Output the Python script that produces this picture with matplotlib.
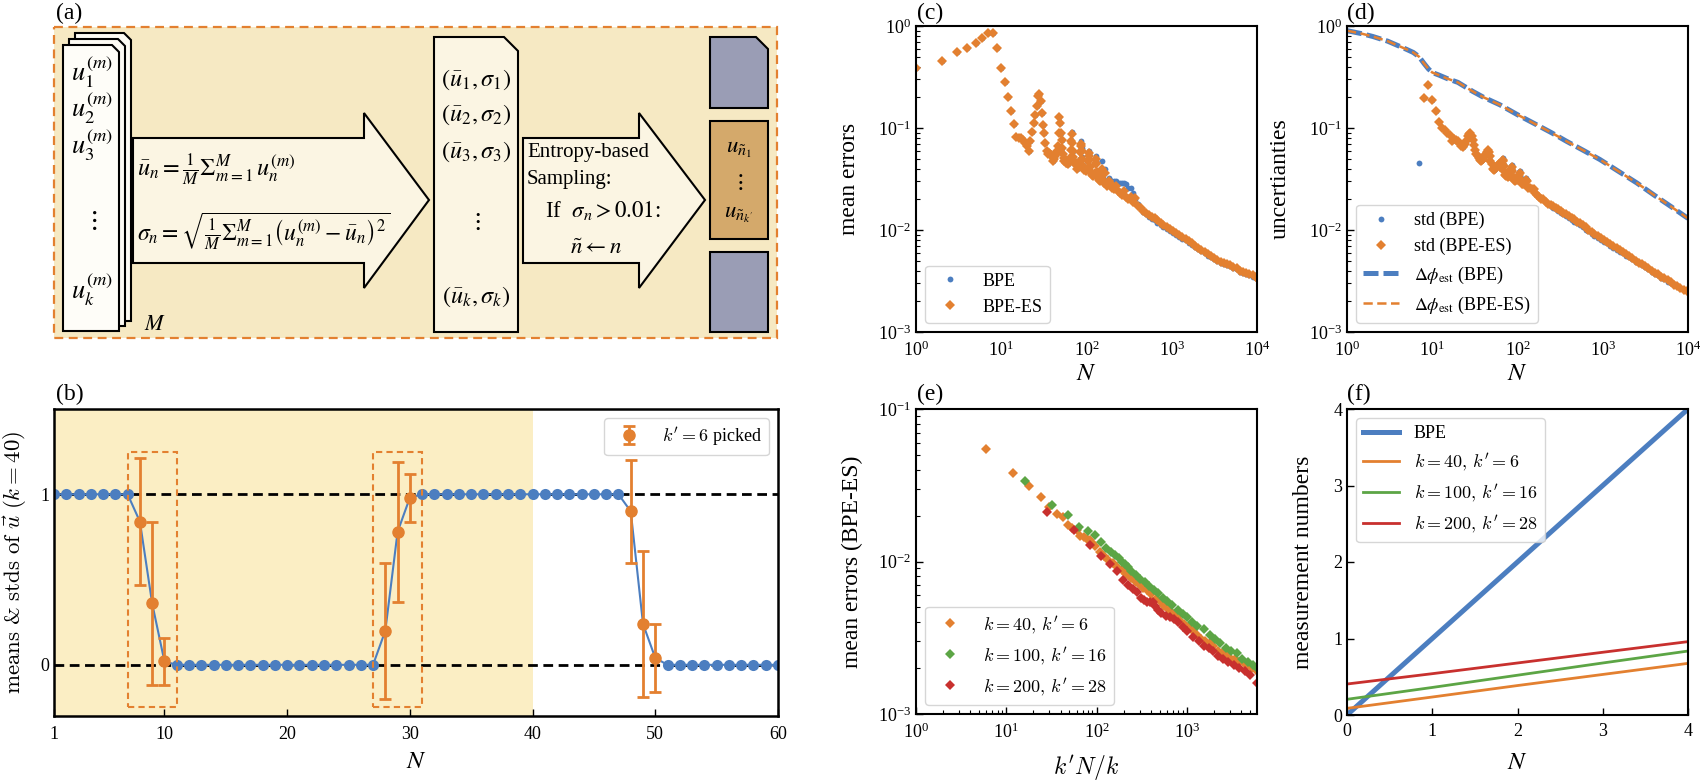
import matplotlib
matplotlib.use('Agg')
import matplotlib.pyplot as plt
from matplotlib.patches import Polygon, Rectangle

plt.rcParams['font.family'] = ['Liberation Serif', 'DejaVu Serif']
plt.rcParams['mathtext.fontset'] = 'stix'
plt.rcParams['font.size'] = 13
plt.rcParams['xtick.labelsize'] = 13
plt.rcParams['ytick.labelsize'] = 13

BLUE = '#4C7EC0'
ORANGE = '#E38030'
GREEN = '#5CA545'
RED = '#C8302E'

# ---------------- data ----------------
# (b)
b_N = list(range(1, 61))
b_mean = [1]*7 + [0.84, 0.36, 0.02] + [0]*17 + [0.20, 0.78, 0.98] + [1]*17 + [0.90, 0.24, 0.04] + [0]*10
b_pick_N = [8, 9, 10, 28, 29, 30, 48, 49, 50]
b_pick_mean = [0.84, 0.36, 0.02, 0.20, 0.78, 0.98, 0.90, 0.24, 0.04]
b_pick_std = [0.37, 0.48, 0.14, 0.40, 0.41, 0.14, 0.30, 0.43, 0.20]
b_groups = [[8, 9, 10], [28, 29, 30]]

# (c) mean errors
c_N_early = list(range(1, 63))
c_early = [0.39, 0.45, 0.55, 0.61, 0.68, 0.77, 0.85, 0.85, 0.61, 0.39,
           0.28, 0.20, 0.147, 0.110, 0.082, 0.080, 0.079, 0.077, 0.072, 0.066,
           0.060, 0.074, 0.091, 0.112, 0.135, 0.165, 0.205, 0.215, 0.185, 0.140,
           0.107, 0.090, 0.072, 0.059, 0.056, 0.057, 0.055, 0.054, 0.053, 0.052,
           0.048, 0.050, 0.053, 0.056, 0.060, 0.066, 0.090, 0.128, 0.112, 0.090,
           0.077, 0.064, 0.056, 0.051, 0.048, 0.047, 0.046, 0.045, 0.045, 0.044,
           0.046, 0.048]
c_N_tail = [64, 65, 66, 67, 68, 69, 70, 72, 74, 77,
            80, 83, 85, 86, 87, 88, 89, 91, 94, 98,
            102, 105, 106, 107, 108, 110, 113, 116, 120, 125,
            128, 129, 130, 132, 136, 140, 144, 148, 150, 152,
            156, 160, 165, 170, 176, 182, 190, 200, 210, 220,
            232, 245, 260, 275, 290, 310, 330, 350, 375, 400,
            430, 460, 500, 540, 580, 630, 680, 740, 800, 870,
            950, 1030, 1120, 1220, 1330, 1450, 1580, 1720, 1880, 2050,
            2230, 2430, 2650, 2890, 3150, 3430, 3740, 4080, 4450, 4850,
            5290, 5770, 6290, 6860, 7480, 8150, 8890, 9690, 10000]
c_es_tail = [0.051, 0.061, 0.074, 0.088, 0.071, 0.059, 0.052, 0.047, 0.044, 0.040,
             0.042, 0.048, 0.058, 0.066, 0.070, 0.060, 0.050, 0.042, 0.039, 0.038,
             0.040, 0.047, 0.053, 0.057, 0.049, 0.041, 0.037, 0.035, 0.034, 0.036,
             0.045, 0.050, 0.044, 0.037, 0.033, 0.031, 0.030, 0.033, 0.040, 0.036,
             0.031, 0.029, 0.036, 0.028, 0.027, 0.030, 0.029, 0.026, 0.025, 0.027,
             0.024, 0.023, 0.022, 0.024, 0.021, 0.020, 0.021, 0.019, 0.0205, 0.017,
             0.0165, 0.0155, 0.0148, 0.0140, 0.0134, 0.0130, 0.0124, 0.0117, 0.0112, 0.0107,
             0.0102, 0.0098, 0.0094, 0.0090, 0.0086, 0.0082, 0.0078, 0.0074, 0.0070, 0.0067,
             0.0064, 0.0061, 0.0058, 0.0055, 0.0053, 0.0051, 0.0049, 0.0047, 0.0046, 0.0045,
             0.0043, 0.0042, 0.0040, 0.0039, 0.0038, 0.0037, 0.0036, 0.0035, 0.0034]
c_bpe_tail = [0.051, 0.062, 0.076, 0.092, 0.073, 0.060, 0.052, 0.047, 0.044, 0.040,
              0.043, 0.050, 0.061, 0.069, 0.075, 0.063, 0.052, 0.043, 0.039, 0.038,
              0.041, 0.049, 0.055, 0.060, 0.051, 0.042, 0.037, 0.035, 0.034, 0.037,
              0.047, 0.053, 0.046, 0.038, 0.033, 0.032, 0.031, 0.036, 0.047, 0.039,
              0.032, 0.030, 0.040, 0.030, 0.029, 0.032, 0.031, 0.029, 0.030, 0.030,
              0.029, 0.029, 0.029, 0.029, 0.028, 0.026, 0.026, 0.023, 0.020, 0.018,
              0.0162, 0.0150, 0.0143, 0.0135, 0.0128, 0.0124, 0.0118, 0.0112, 0.0107, 0.0102,
              0.0097, 0.0093, 0.0089, 0.0085, 0.0082, 0.0079, 0.0075, 0.0072, 0.0068, 0.0065,
              0.0062, 0.0059, 0.0056, 0.0054, 0.0052, 0.0050, 0.0048, 0.0046, 0.0045, 0.0044,
              0.0042, 0.0041, 0.0039, 0.0038, 0.0037, 0.0036, 0.0035, 0.0034, 0.0034]

# (d) uncertainties
d_bpe_extra_N = [7]
d_bpe_extra = [0.045]
d_N_early = list(range(8, 41)) + [42, 43, 44, 45, 46, 47, 48, 50, 52, 53, 55, 57, 59, 61]
d_std_early = [0.196, 0.265, 0.190, 0.148, 0.114, 0.100, 0.096, 0.090, 0.086, 0.074,
               0.078, 0.076, 0.074, 0.070, 0.066, 0.065, 0.069, 0.075, 0.083, 0.087,
               0.089, 0.084, 0.077, 0.068, 0.061, 0.056, 0.053, 0.051, 0.049, 0.048,
               0.049, 0.050, 0.052,
               0.054, 0.056, 0.058, 0.061, 0.058, 0.053, 0.048, 0.044, 0.040, 0.039,
               0.040, 0.042, 0.043, 0.044]
d_N_tail = [63, 65, 66, 67, 68, 69, 70, 72, 74, 77,
            80, 83, 85, 86, 87, 89, 91, 94, 98, 102,
            105, 107, 109, 112, 116, 120, 125, 128, 130, 134,
            140, 148, 155, 162, 170, 180, 190, 200, 215, 230,
            245, 260, 280, 300, 320, 345, 370, 400, 430, 460,
            500, 540, 580, 630, 680, 740, 800, 870, 950, 1030,
            1120, 1220, 1330, 1450, 1580, 1720, 1880, 2050, 2230, 2430,
            2650, 2890, 3150, 3430, 3740, 4080, 4450, 4850, 5290, 5770,
            6290, 6860, 7480, 8150, 8890, 9690, 10000]
d_es_tail = [0.041, 0.044, 0.047, 0.049, 0.047, 0.042, 0.038, 0.035, 0.034, 0.033,
             0.034, 0.037, 0.040, 0.041, 0.038, 0.033, 0.031, 0.030, 0.031, 0.033,
             0.035, 0.036, 0.031, 0.028, 0.028, 0.029, 0.031, 0.030, 0.027, 0.026,
             0.026, 0.025, 0.025, 0.023, 0.022, 0.021, 0.020, 0.020, 0.019, 0.018,
             0.0175, 0.017, 0.0165, 0.016, 0.0155, 0.0148, 0.0142, 0.0136, 0.0131, 0.0127,
             0.0121, 0.0116, 0.0111, 0.0106, 0.0101, 0.0096, 0.0092, 0.0088, 0.0084, 0.0080,
             0.0077, 0.0073, 0.0070, 0.0067, 0.0064, 0.0061, 0.0058, 0.0055, 0.0053, 0.0050,
             0.0048, 0.0046, 0.0044, 0.0042, 0.0040, 0.0038, 0.0037, 0.0035, 0.0034, 0.0032,
             0.0031, 0.0029, 0.0028, 0.0027, 0.0026, 0.0025, 0.0025]
d_bpe_tail = [0.042, 0.046, 0.049, 0.051, 0.049, 0.043, 0.038, 0.035, 0.034, 0.033,
              0.035, 0.039, 0.042, 0.043, 0.040, 0.034, 0.031, 0.030, 0.032, 0.035,
              0.037, 0.038, 0.032, 0.028, 0.028, 0.030, 0.032, 0.031, 0.027, 0.026,
              0.026, 0.025, 0.025, 0.023, 0.022, 0.021, 0.020, 0.020, 0.019, 0.018,
              0.0172, 0.0166, 0.016, 0.0154, 0.0148, 0.0142, 0.0136, 0.0130, 0.0125, 0.0121,
              0.0116, 0.0111, 0.0106, 0.0101, 0.0097, 0.0092, 0.0088, 0.0084, 0.0080, 0.0077,
              0.0074, 0.0070, 0.0067, 0.0064, 0.0061, 0.0059, 0.0056, 0.0054, 0.0052, 0.0049,
              0.0047, 0.0045, 0.0043, 0.0041, 0.0039, 0.0037, 0.0036, 0.0034, 0.0033, 0.0031,
              0.0030, 0.0029, 0.0028, 0.0027, 0.0026, 0.0025, 0.0025]
d_dphi_N = [1, 1.5, 2, 3, 4, 5, 6, 7, 8, 9, 10, 12, 15, 20, 25, 30, 40, 62, 100,
            153, 250, 377, 600, 930, 1500, 2500, 4000, 6300, 10000]
d_dphi_bpe = [0.90, 0.84, 0.79, 0.71, 0.64, 0.59, 0.55, 0.50, 0.43, 0.38, 0.35, 0.33,
              0.305, 0.28, 0.25, 0.228, 0.20, 0.169, 0.135, 0.112, 0.090, 0.074, 0.060,
              0.049, 0.038, 0.029, 0.022, 0.017, 0.0130]
d_dphi_es = [0.90, 0.84, 0.79, 0.71, 0.64, 0.59, 0.55, 0.50, 0.43, 0.38, 0.35, 0.33,
             0.305, 0.28, 0.25, 0.228, 0.20, 0.169, 0.135, 0.112, 0.090, 0.074, 0.060,
             0.049, 0.038, 0.029, 0.022, 0.017, 0.0130]

# (e) mean errors (BPE-ES) vs k'N/k
e_X_40 = [6, 12, 18, 24, 30, 36, 42, 48, 54, 60,
          66, 72, 78, 84, 90, 96, 108, 120, 132, 150,
          170, 190, 213, 240, 270, 300, 330, 360, 400, 450,
          500, 560, 630, 700, 780, 840, 930, 1030, 1170, 1300,
          1450, 1600, 1800, 1960, 2200, 2450, 2750, 3050, 3400, 3800,
          4250, 4750, 5300, 5900]
e_40 = [0.0547, 0.0379, 0.0314, 0.0264, 0.0229, 0.0205, 0.0195, 0.0174, 0.0166, 0.0160,
        0.0148, 0.0144, 0.0140, 0.0138, 0.0133, 0.0127, 0.0116, 0.0108, 0.0102, 0.0098,
        0.0092, 0.0088, 0.0083, 0.0078, 0.0073, 0.0070, 0.0067, 0.0065, 0.0061, 0.0057,
        0.0055, 0.0051, 0.0048, 0.0045, 0.0043, 0.0041, 0.0039, 0.0037, 0.0035, 0.0033,
        0.0031, 0.0030, 0.0029, 0.0028, 0.0026, 0.0025, 0.0024, 0.0023, 0.0023, 0.0022,
        0.00215, 0.0021, 0.0020, 0.0019]
e_X_100 = [16, 32, 48, 64, 80, 96, 112, 128, 144, 160,
           176, 192, 208, 224, 240, 270, 300, 340, 380, 430,
           480, 540, 600, 690, 800, 900, 1000, 1150, 1300, 1530,
           1800, 2050, 2330, 2700, 3100, 3550, 4100, 4700, 5400, 5900]
e_100 = [0.0339, 0.0235, 0.0202, 0.0169, 0.0158, 0.0149, 0.0134, 0.0123, 0.0116, 0.0110,
         0.0105, 0.0100, 0.0096, 0.0092, 0.0087, 0.0081, 0.0077, 0.0073, 0.0069, 0.0065,
         0.0062, 0.0058, 0.0055, 0.0052, 0.0048, 0.0045, 0.0043, 0.0040, 0.0038, 0.0036,
         0.0033, 0.0031, 0.0029, 0.0027, 0.0026, 0.0025, 0.0023, 0.0022, 0.0021, 0.0020]
e_X_200 = [28, 56, 84, 112, 140, 168, 196, 224, 252, 280,
           308, 336, 364, 392, 420, 448, 476, 520, 580, 650,
           720, 800, 900, 1000, 1170, 1350, 1550, 1750, 1960, 2200,
           2500, 2880, 3300, 3800, 4400, 5000, 5900]
e_200 = [0.0210, 0.0160, 0.0128, 0.0108, 0.0097, 0.0087, 0.0076, 0.0070, 0.0066, 0.0063,
         0.0058, 0.0056, 0.0054, 0.0054, 0.0054, 0.0051, 0.0048, 0.0046, 0.0044, 0.0043,
         0.0042, 0.0040, 0.0037, 0.0035, 0.0032, 0.0030, 0.0028, 0.0027, 0.0026, 0.0024,
         0.0023, 0.0022, 0.0021, 0.0020, 0.0019, 0.0018, 0.0016]

# (f) measurement numbers
f_N = [0, 1, 2, 3, 4]
f_bpe = [0, 1, 2, 3, 4]
f_40 = [0.087, 0.235, 0.385, 0.53, 0.675]
f_100 = [0.205, 0.36, 0.52, 0.68, 0.836]
f_200 = [0.405, 0.54, 0.68, 0.82, 0.959]

# ---------------- figure ----------------
W, H = 1700, 783
fig = plt.figure(figsize=(17, 7.83), dpi=100)


def ax_px(x0, y0, x1, y1):
    return fig.add_axes([x0 / W, 1 - y1 / H, (x1 - x0) / W, (y1 - y0) / H])


def style(ax, lw=1.5):
    ax.tick_params(which='both', direction='in', top=False, right=False)
    ax.tick_params(which='major', length=5, width=1)
    ax.tick_params(which='minor', length=3, width=0.8)
    for s in ax.spines.values():
        s.set_linewidth(lw)


# ---- (a) schematic ----
axa = ax_px(53, 26, 778, 339)
axa.set_xlim(53, 778)
axa.set_ylim(339, 26)
axa.axis('off')
axa.add_patch(Rectangle((54, 27), 723, 311, facecolor='#F6E9C3', edgecolor=ORANGE,
                        ls=(0, (4, 2.5)), lw=1.6, clip_on=False, zorder=0))


def clipped(x0, y0, x1, y1, c, fc, z=2):
    pts = [(x0, y0), (x1 - c, y0), (x1, y0 + c), (x1, y1), (x0, y1)]
    axa.add_patch(Polygon(pts, closed=True, facecolor=fc, edgecolor='k', lw=1.5, zorder=z))


clipped(75, 33, 131, 321, 7, '#FDFBF4', 2)
clipped(69, 39, 125, 326, 7, '#FDFBF4', 3)
clipped(63, 45, 119, 331, 7, '#FEFDF8', 4)

SHEET_FC = '#FBF5E3'


def arrow(x0, xb, xt, yb0, yb1, yh0, yh1, ytip):
    pts = [(x0, yb0), (xb, yb0), (xb, yh0), (xt, ytip), (xb, yh1), (xb, yb1), (x0, yb1)]
    axa.add_patch(Polygon(pts, closed=True, facecolor=SHEET_FC, edgecolor='k', lw=1.5, zorder=3))


arrow(133, 364, 429, 138, 263, 113, 288, 200)
arrow(523, 639, 705, 138, 263, 113, 288, 200)
clipped(434, 37, 518, 332, 14, SHEET_FC, 3)
clipped(710, 37, 768, 108, 12, '#9A9DB5', 3)
axa.add_patch(Rectangle((710, 121), 58, 118, facecolor='#D4A96B', edgecolor='k', lw=1.5, zorder=3))
axa.add_patch(Rectangle((710, 252), 58, 80, facecolor='#9A9DB5', edgecolor='k', lw=1.5, zorder=3))

tk = dict(ha='center', va='center', zorder=6)
for s, y in [(r'$u_1^{(m)}$', 72), (r'$u_2^{(m)}$', 108), (r'$u_3^{(m)}$', 145),
             (r'$\vdots$', 220), (r'$u_k^{(m)}$', 290)]:
    axa.text(92, y, s, fontsize=19, **tk)
axa.text(155, 326, r'$M$', fontsize=16, **tk)
axa.text(137, 170, r'$\bar{u}_n=\frac{1}{M}\Sigma_{m=1}^{M}\,u_n^{(m)}$', ha='left', va='center',
         fontsize=17.5, zorder=6)
axa.text(137, 231, r'$\sigma_n=\sqrt{\frac{1}{M}\Sigma_{m=1}^{M}\left(u_n^{(m)}-\bar{u}_n\right)^2}$',
         ha='left', va='center', fontsize=17, zorder=6)
for s, y in [(r'$(\bar{u}_1,\sigma_1)$', 80), (r'$(\bar{u}_2,\sigma_2)$', 115),
             (r'$(\bar{u}_3,\sigma_3)$', 152), (r'$\vdots$', 222), (r'$(\bar{u}_k,\sigma_k)$', 297)]:
    axa.text(476, y, s, fontsize=17.5, **tk)
axa.text(527, 153, 'Entropy-based', ha='left', va='center', fontsize=15, zorder=6)
axa.text(527, 180, 'Sampling:', ha='left', va='center', fontsize=15, zorder=6)
axa.text(603, 210, r'If  $\sigma_n>0.01$:', ha='center', va='center', fontsize=16.5, zorder=6)
axa.text(596, 248, r'$\tilde{n}\leftarrow n$', ha='center', va='center', fontsize=16.5, zorder=6)
for s, y in [(r'$u_{\tilde{n}_1}$', 150), (r'$\vdots$', 183), (r"$u_{\tilde{n}_{k'}}$", 215)]:
    axa.text(739, y, s, fontsize=16.5, **tk)

# ---- (b) ----
axb = ax_px(54, 409, 778, 716)
axb.axvspan(1, 40, color='#FBEEC4', lw=0, zorder=0)
for yv in (0, 1):
    axb.axhline(yv, color='k', lw=2, dashes=(3.5, 2), zorder=1)
axb.plot(b_N, b_mean, '-o', color=BLUE, lw=1.5, ms=8, mew=0, zorder=2)
for g in b_groups:
    axb.add_patch(Rectangle((min(g) - 1, -0.25), max(g) - min(g) + 2, 1.5, fill=False,
                            edgecolor=ORANGE, lw=1.5, ls=(0, (3, 2)), zorder=3))
axb.errorbar(b_pick_N, b_pick_mean, yerr=b_pick_std, fmt='o', color=ORANGE, ms=8,
             elinewidth=2, capsize=4, capthick=2, zorder=4, label=r"$k'=6$ picked")
axb.set_xlim(1, 60)
axb.set_ylim(-0.3, 1.5)
axb.set_xticks([1, 10, 20, 30, 40, 50, 60])
axb.set_yticks([0, 1])
style(axb, 1.8)
axb.tick_params(axis='x', pad=7)
legb = axb.legend(loc='upper right', fontsize=13)
for t in legb.get_texts():
    t.set_math_fontfamily('cm')
axb.set_xlabel(r'$N$', fontsize=18)
axb.xaxis.set_label_coords(0.5, -0.115)
axb.set_ylabel(r'$\mathrm{means\ &\ stds\ of\ }\vec{u}\ (k=40)$', fontsize=16.5, math_fontfamily='cm')
axb.yaxis.set_label_coords(-0.034, 0.5)

# ---- (c) ----
axc = ax_px(916, 26, 1257, 332)
axc.set_xscale('log')
axc.set_yscale('log')
axc.plot(c_N_early + c_N_tail, c_early + c_bpe_tail, 'o', ms=4.2, mew=0, color=BLUE, label='BPE')
axc.plot(c_N_early + c_N_tail, c_early + c_es_tail, 'D', ms=4.8, mew=0, color=ORANGE, label='BPE-ES')
axc.set_xlim(1, 1e4)
axc.set_ylim(1e-3, 1)
style(axc)
axc.tick_params(axis='x', which='both', length=0, pad=6)
axc.legend(loc='lower left', fontsize=13)
axc.set_ylabel('mean errors', fontsize=17)
axc.yaxis.set_label_coords(-0.165, 0.5)
axc.set_xlabel(r'$N$', fontsize=18)
axc.xaxis.set_label_coords(0.5, -0.1)

# ---- (d) ----
axd = ax_px(1347, 26, 1688, 332)
axd.set_xscale('log')
axd.set_yscale('log')
axd.plot(d_bpe_extra_N + d_N_early + d_N_tail, d_bpe_extra + d_std_early + d_bpe_tail, 'o',
         ms=4.2, mew=0, color=BLUE, label='std (BPE)')
axd.plot(d_N_early + d_N_tail, d_std_early + d_es_tail, 'D', ms=4.8, mew=0, color=ORANGE,
         label='std (BPE-ES)')
axd.plot(d_dphi_N, d_dphi_bpe, color=BLUE, lw=3.6, dashes=(3.0, 1.0),
         label=r'$\Delta\phi_{\mathrm{est}}$ (BPE)')
axd.plot(d_dphi_N, d_dphi_es, color=ORANGE, lw=1.8, dashes=(3.7, 1.8),
         label=r'$\Delta\phi_{\mathrm{est}}$ (BPE-ES)')
axd.set_xlim(1, 1e4)
axd.set_ylim(1e-3, 1)
style(axd)
axd.tick_params(axis='x', which='both', length=0, pad=6)
axd.legend(loc='lower left', fontsize=13)
axd.set_ylabel('uncertianties', fontsize=17)
axd.yaxis.set_label_coords(-0.165, 0.5)
axd.set_xlabel(r'$N$', fontsize=18)
axd.xaxis.set_label_coords(0.5, -0.1)

# ---- (e) ----
axe = ax_px(916, 409, 1257, 714)
axe.set_xscale('log')
axe.set_yscale('log')
axe.plot(e_X_40, e_40, 'D', ms=5, mew=0, color=ORANGE, label=r"$k=40,\,k'=6$")
axe.plot(e_X_100, e_100, 'D', ms=5, mew=0, color=GREEN, label=r"$k=100,\,k'=16$")
axe.plot(e_X_200, e_200, 'D', ms=5, mew=0, color=RED, label=r"$k=200,\,k'=28$")
axe.set_xlim(1, 5970)
axe.set_ylim(1e-3, 1e-1)
style(axe)
axe.tick_params(axis='x', pad=6)
lege = axe.legend(loc='lower left', fontsize=13)
for t in lege.get_texts():
    t.set_math_fontfamily('cm')
axe.set_ylabel('mean errors (BPE-ES)', fontsize=17)
axe.yaxis.set_label_coords(-0.155, 0.5)
axe.set_xlabel(r"$k'N/k$", fontsize=17, math_fontfamily='cm')
axe.xaxis.set_label_coords(0.5, -0.128)

# ---- (f) ----
axf = ax_px(1347, 409, 1688, 715)
axf.plot(f_N, f_bpe, color=BLUE, lw=3.6, label='BPE')
axf.plot(f_N, f_40, color=ORANGE, lw=2, label=r"$k=40,\,k'=6$")
axf.plot(f_N, f_100, color=GREEN, lw=2, label=r"$k=100,\,k'=16$")
axf.plot(f_N, f_200, color=RED, lw=2, label=r"$k=200,\,k'=28$")
axf.set_xlim(0, 4)
axf.set_ylim(0, 4)
axf.set_xticks([0, 1, 2, 3, 4])
axf.set_yticks([0, 1, 2, 3, 4])
style(axf)
axf.tick_params(axis='x', pad=6)
legf = axf.legend(loc='upper left', fontsize=13)
for t in legf.get_texts():
    t.set_math_fontfamily('cm')
axf.set_ylabel('measurement numbers', fontsize=17)
axf.yaxis.set_label_coords(-0.097, 0.5)
axf.set_xlabel(r'$N$', fontsize=18)
axf.xaxis.set_label_coords(0.5, -0.12)

# ---- panel labels ----
for s, x, y in [('(a)', 56, 13), ('(b)', 56, 394), ('(c)', 917, 13),
                ('(d)', 1347, 13), ('(e)', 917, 394), ('(f)', 1347, 394)]:
    fig.text(x / W, 1 - y / H, s, ha='left', va='center', fontsize=17)

fig.savefig('out.png', dpi=100)
